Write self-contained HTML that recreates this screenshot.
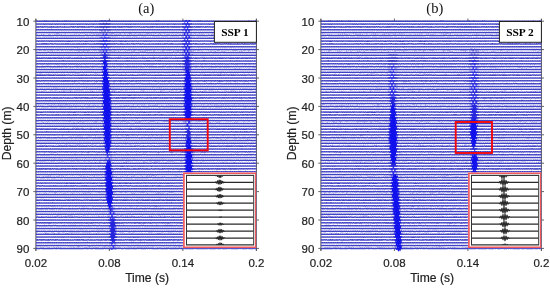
<!DOCTYPE html>
<html><head><meta charset="utf-8"><style>
html,body{margin:0;padding:0;background:#fff;width:550px;height:289px;overflow:hidden}
svg{display:block}
.tl{font-family:"Liberation Sans",Arial,sans-serif;font-size:11.5px;fill:#222;stroke:#222;stroke-width:0.2px}
.al{font-family:"Liberation Sans",Arial,sans-serif;font-size:12.1px;fill:#222;stroke:#222;stroke-width:0.2px}
.ttl{font-family:"Liberation Serif","Times New Roman",serif;font-size:14.5px;fill:#111}
.ssp{font-family:"Liberation Serif","Times New Roman",serif;font-size:11.4px;font-weight:bold;fill:#000}
</style></head><body>
<svg width="550" height="289" viewBox="0 0 550 289">
<rect width="550" height="289" fill="#fff"/>
<defs><path id="nz0" d="M0 0l1.1 .13l1.1 -.24l1.1 .28l1.1 -.27l1.1 .26l1.1 -.3l1.1 .23l1.1 -.25l1.1 .25l1.1 -.24l1.1 .24l1.1 -.2l1.1 .24l1.1 -.34l1.1 .3l1.1 -.22l1.1 .29l1.1 -.38l1.1 .38l1.1 -.3l1.1 .36l1.1 -.31l1.1 .3l1.1 -.33l1.1 .23l1.1 -.21l1.1 .23l1.1 -.32l1.1 .31l1.1 -.28l1.1 .34l1.1 -.31l1.1 .3l1.1 -.26l1.1 .19l1.1 -.21l1.1 .29l1.1 -.32l1.1 .27l1.1 -.29l1.1 .31l1.1 -.28l1.1 .32l1.1 -.37l1.1 .3l1.1 -.28l1.1 .32l1.1 -.36l1.1 .39l1.1 -.31l1.1 .34l1.1 -.32l1.1 .25l1.1 -.33l1.1 .3l1.1 -.26l1.1 .25l1.1 -.27l1.1 .37l1.1 -.35l1.1 .37l1.1 -.33l1.1 .31l1.1 -.35l1.1 .33l1.1 -.31l1.1 .35l1.1 -.41l1.1 .36l1.1 -.33l1.1 .27l1.1 -.28l1.1 .35l1.1 -.39l1.1 .42l1.1 -.32l1.1 .26l1.1 -.32l1.1 .27l1.1 -.24l1.1 .26l1.1 -.21l1.1 .2l1.1 -.29l1.1 .29l1.1 -.23l1.1 .26l1.1 -.34l1.1 .3l1.1 -.25l1.1 .31l1.1 -.37l1.1 .4l1.1 -.4l1.1 .33l1.1 -.27l1.1 .28l1.1 -.34l1.1 .42l1.1 -.32l1.1 .22l1.1 -.23l1.1 .24l1.1 -.27l1.1 .32l1.1 -.29l1.1 .21l1.1 -.23l1.1 .28l1.1 -.3l1.1 .38l1.1 -.39l1.1 .34l1.1 -.33l1.1 .35l1.1 -.27l1.1 .3l1.1 -.4l1.1 .39l1.1 -.4l1.1 .33l1.1 -.28l1.1 .24l1.1 -.27l1.1 .27l1.1 -.19l1.1 .21l1.1 -.22l1.1 .24l1.1 -.23l1.1 .18l1.1 -.2l1.1 .21l1.1 -.24l1.1 .23l1.1 -.29l1.1 .37l1.1 -.28l1.1 .23l1.1 -.26l1.1 .27l1.1 -.24l1.1 .3l1.1 -.42l1.1 .37l1.1 -.3l1.1 .25l1.1 -.2l1.1 .23l1.1 -.26l1.1 .32l1.1 -.31l1.1 .2l1.1 -.3l1.1 .37l1.1 -.27l1.1 .27l1.1 -.25l1.1 .25l1.1 -.37l1.1 .42l1.1 -.38l1.1 .3l1.1 -.26l1.1 .25l1.1 -.3l1.1 .35l1.1 -.35l1.1 .32l1.1 -.25l1.1 .31l1.1 -.41l1.1 .42l1.1 -.39l1.1 .39l1.1 -.38l1.1 .3l1.1 -.27l1.1 .29l1.1 -.23l1.1 .18l1.1 -.22l1.1 .25l1.1 -.3l1.1 .39l1.1 -.36l1.1 .36l1.1 -.43l1.1 .43l1.1 -.35l1.1 .25l1.1 -.24l1.1 .23l1.1 -.23l1.1 .29l1.1 -.38l1.1 .41l1.1 -.35l1.1 .33l1.1 -.37l1.1 .29l1.1 -.27l1.1 .38l1.1 -.4l1.1 .38l1.1 -.34l1.1 .26l1.1 -.3l1.1 .32l1.1 -.33l1.1 .41l1.1 -.36l1.1 .28l1.1 -.35l1.1 .4l1.1 -.29l1.1 .22l1.1 -.21l1.1 .32l1.1 -.4l1.1 .3l1.1 -.3l1.1 .41l1.1 -.39l1.1 .31l1.1 -.29l1.1 .27l1.1 -.2l1.1 .31l1.1 -.39l1.1 .33l1.1 -.37"/><path id="nz1" d="M0 0l1.1 .15l1.1 -.35l1.1 .4l1.1 -.31l1.1 .24l1.1 -.25l1.1 .25l1.1 -.29l1.1 .29l1.1 -.27l1.1 .25l1.1 -.31l1.1 .34l1.1 -.28l1.1 .31l1.1 -.37l1.1 .35l1.1 -.35l1.1 .36l1.1 -.31l1.1 .32l1.1 -.25l1.1 .24l1.1 -.26l1.1 .2l1.1 -.28l1.1 .3l1.1 -.26l1.1 .33l1.1 -.35l1.1 .29l1.1 -.29l1.1 .32l1.1 -.35l1.1 .29l1.1 -.26l1.1 .28l1.1 -.25l1.1 .31l1.1 -.34l1.1 .32l1.1 -.35l1.1 .4l1.1 -.35l1.1 .32l1.1 -.32l1.1 .31l1.1 -.34l1.1 .33l1.1 -.31l1.1 .31l1.1 -.36l1.1 .39l1.1 -.38l1.1 .42l1.1 -.33l1.1 .28l1.1 -.37l1.1 .41l1.1 -.3l1.1 .21l1.1 -.25l1.1 .24l1.1 -.22l1.1 .22l1.1 -.27l1.1 .37l1.1 -.4l1.1 .31l1.1 -.29l1.1 .36l1.1 -.28l1.1 .31l1.1 -.42l1.1 .33l1.1 -.33l1.1 .35l1.1 -.29l1.1 .37l1.1 -.42l1.1 .31l1.1 -.25l1.1 .3l1.1 -.29l1.1 .25l1.1 -.24l1.1 .31l1.1 -.27l1.1 .25l1.1 -.31l1.1 .24l1.1 -.22l1.1 .3l1.1 -.33l1.1 .25l1.1 -.31l1.1 .41l1.1 -.41l1.1 .32l1.1 -.22l1.1 .22l1.1 -.28l1.1 .31l1.1 -.23l1.1 .25l1.1 -.35l1.1 .4l1.1 -.32l1.1 .23l1.1 -.32l1.1 .37l1.1 -.34l1.1 .28l1.1 -.2l1.1 .27l1.1 -.32l1.1 .24l1.1 -.31l1.1 .38l1.1 -.37l1.1 .29l1.1 -.3l1.1 .3l1.1 -.3l1.1 .35l1.1 -.28l1.1 .29l1.1 -.37l1.1 .33l1.1 -.23l1.1 .26l1.1 -.28l1.1 .22l1.1 -.21l1.1 .2l1.1 -.21l1.1 .24l1.1 -.26l1.1 .32l1.1 -.31l1.1 .28l1.1 -.27l1.1 .25l1.1 -.22l1.1 .21l1.1 -.21l1.1 .27l1.1 -.35l1.1 .27l1.1 -.26l1.1 .36l1.1 -.31l1.1 .3l1.1 -.34l1.1 .3l1.1 -.35l1.1 .34l1.1 -.29l1.1 .33l1.1 -.4l1.1 .35l1.1 -.33l1.1 .38l1.1 -.35l1.1 .31l1.1 -.28l1.1 .23l1.1 -.2l1.1 .2l1.1 -.28l1.1 .31l1.1 -.23l1.1 .21l1.1 -.3l1.1 .4l1.1 -.38l1.1 .3l1.1 -.25l1.1 .25l1.1 -.28l1.1 .26l1.1 -.26l1.1 .27l1.1 -.34l1.1 .43l1.1 -.38l1.1 .28l1.1 -.34l1.1 .34l1.1 -.26l1.1 .22l1.1 -.23l1.1 .29l1.1 -.31l1.1 .27l1.1 -.27l1.1 .24l1.1 -.21l1.1 .22l1.1 -.24l1.1 .23l1.1 -.18l1.1 .22l1.1 -.25l1.1 .28l1.1 -.32l1.1 .34l1.1 -.36l1.1 .36l1.1 -.39l1.1 .34l1.1 -.27l1.1 .35l1.1 -.33l1.1 .29l1.1 -.36l1.1 .27l1.1 -.29l1.1 .4l1.1 -.38l1.1 .36l1.1 -.38l1.1 .3l1.1 -.26l1.1 .31l1.1 -.35l1.1 .39l1.1 -.39l1.1 .36l1.1 -.37l1.1 .38l1.1 -.36"/><path id="nz2" d="M0 0l1.1 .12l1.1 -.21l1.1 .2l1.1 -.24l1.1 .24l1.1 -.3l1.1 .36l1.1 -.33l1.1 .34l1.1 -.35l1.1 .33l1.1 -.24l1.1 .28l1.1 -.38l1.1 .34l1.1 -.31l1.1 .33l1.1 -.27l1.1 .28l1.1 -.31l1.1 .22l1.1 -.22l1.1 .31l1.1 -.3l1.1 .3l1.1 -.4l1.1 .37l1.1 -.29l1.1 .29l1.1 -.33l1.1 .37l1.1 -.36l1.1 .34l1.1 -.27l1.1 .21l1.1 -.23l1.1 .31l1.1 -.31l1.1 .29l1.1 -.25l1.1 .19l1.1 -.22l1.1 .3l1.1 -.36l1.1 .36l1.1 -.3l1.1 .28l1.1 -.31l1.1 .3l1.1 -.25l1.1 .31l1.1 -.32l1.1 .33l1.1 -.43l1.1 .3l1.1 -.24l1.1 .34l1.1 -.41l1.1 .36l1.1 -.27l1.1 .24l1.1 -.33l1.1 .33l1.1 -.28l1.1 .27l1.1 -.26l1.1 .37l1.1 -.32l1.1 .3l1.1 -.35l1.1 .36l1.1 -.39l1.1 .3l1.1 -.33l1.1 .36l1.1 -.24l1.1 .18l1.1 -.24l1.1 .3l1.1 -.28l1.1 .23l1.1 -.24l1.1 .26l1.1 -.33l1.1 .29l1.1 -.28l1.1 .39l1.1 -.3l1.1 .31l1.1 -.39l1.1 .39l1.1 -.33l1.1 .26l1.1 -.28l1.1 .36l1.1 -.39l1.1 .3l1.1 -.28l1.1 .27l1.1 -.22l1.1 .2l1.1 -.3l1.1 .32l1.1 -.34l1.1 .33l1.1 -.24l1.1 .28l1.1 -.27l1.1 .25l1.1 -.35l1.1 .42l1.1 -.4l1.1 .37l1.1 -.38l1.1 .42l1.1 -.37l1.1 .34l1.1 -.28l1.1 .28l1.1 -.33l1.1 .33l1.1 -.36l1.1 .3l1.1 -.22l1.1 .3l1.1 -.32l1.1 .26l1.1 -.28l1.1 .26l1.1 -.31l1.1 .4l1.1 -.34l1.1 .3l1.1 -.3l1.1 .29l1.1 -.3l1.1 .25l1.1 -.22l1.1 .22l1.1 -.32l1.1 .36l1.1 -.27l1.1 .32l1.1 -.43l1.1 .37l1.1 -.25l1.1 .22l1.1 -.21l1.1 .23l1.1 -.23l1.1 .22l1.1 -.24l1.1 .29l1.1 -.37l1.1 .39l1.1 -.33l1.1 .29l1.1 -.3l1.1 .29l1.1 -.27l1.1 .23l1.1 -.22l1.1 .34l1.1 -.32l1.1 .26l1.1 -.33l1.1 .37l1.1 -.32l1.1 .24l1.1 -.24l1.1 .26l1.1 -.29l1.1 .36l1.1 -.41l1.1 .4l1.1 -.29l1.1 .18l1.1 -.27l1.1 .39l1.1 -.36l1.1 .32l1.1 -.25l1.1 .23l1.1 -.35l1.1 .41l1.1 -.4l1.1 .42l1.1 -.34l1.1 .22l1.1 -.21l1.1 .27l1.1 -.33l1.1 .39l1.1 -.4l1.1 .36l1.1 -.36l1.1 .34l1.1 -.31l1.1 .25l1.1 -.28l1.1 .31l1.1 -.33l1.1 .38l1.1 -.3l1.1 .23l1.1 -.23l1.1 .29l1.1 -.35l1.1 .28l1.1 -.2l1.1 .25l1.1 -.32l1.1 .3l1.1 -.26l1.1 .28l1.1 -.26l1.1 .22l1.1 -.28l1.1 .36l1.1 -.39l1.1 .38l1.1 -.36l1.1 .27l1.1 -.24l1.1 .34l1.1 -.4l1.1 .31l1.1 -.22l1.1 .24l1.1 -.33l1.1 .32l1.1 -.27"/><path id="nz3" d="M0 0l1.1 .18l1.1 -.39l1.1 .33l1.1 -.21l1.1 .23l1.1 -.28l1.1 .32l1.1 -.29l1.1 .31l1.1 -.38l1.1 .34l1.1 -.27l1.1 .33l1.1 -.35l1.1 .33l1.1 -.31l1.1 .24l1.1 -.31l1.1 .32l1.1 -.34l1.1 .37l1.1 -.27l1.1 .23l1.1 -.26l1.1 .32l1.1 -.39l1.1 .32l1.1 -.25l1.1 .26l1.1 -.33l1.1 .32l1.1 -.2l1.1 .19l1.1 -.24l1.1 .35l1.1 -.41l1.1 .39l1.1 -.4l1.1 .43l1.1 -.34l1.1 .24l1.1 -.32l1.1 .4l1.1 -.28l1.1 .27l1.1 -.31l1.1 .28l1.1 -.27l1.1 .24l1.1 -.2l1.1 .21l1.1 -.26l1.1 .35l1.1 -.32l1.1 .32l1.1 -.33l1.1 .25l1.1 -.33l1.1 .39l1.1 -.34l1.1 .24l1.1 -.24l1.1 .29l1.1 -.35l1.1 .32l1.1 -.25l1.1 .34l1.1 -.3l1.1 .23l1.1 -.34l1.1 .38l1.1 -.28l1.1 .19l1.1 -.19l1.1 .31l1.1 -.33l1.1 .31l1.1 -.39l1.1 .34l1.1 -.26l1.1 .34l1.1 -.38l1.1 .29l1.1 -.31l1.1 .31l1.1 -.25l1.1 .21l1.1 -.28l1.1 .4l1.1 -.38l1.1 .38l1.1 -.3l1.1 .21l1.1 -.27l1.1 .37l1.1 -.43l1.1 .35l1.1 -.26l1.1 .27l1.1 -.3l1.1 .36l1.1 -.32l1.1 .31l1.1 -.38l1.1 .38l1.1 -.39l1.1 .36l1.1 -.3l1.1 .26l1.1 -.27l1.1 .33l1.1 -.29l1.1 .21l1.1 -.3l1.1 .31l1.1 -.22l1.1 .19l1.1 -.25l1.1 .29l1.1 -.35l1.1 .42l1.1 -.42l1.1 .34l1.1 -.22l1.1 .2l1.1 -.25l1.1 .34l1.1 -.33l1.1 .27l1.1 -.26l1.1 .31l1.1 -.35l1.1 .36l1.1 -.39l1.1 .38l1.1 -.28l1.1 .3l1.1 -.33l1.1 .29l1.1 -.3l1.1 .32l1.1 -.3l1.1 .23l1.1 -.24l1.1 .23l1.1 -.31l1.1 .37l1.1 -.3l1.1 .27l1.1 -.36l1.1 .37l1.1 -.27l1.1 .31l1.1 -.37l1.1 .39l1.1 -.32l1.1 .25l1.1 -.35l1.1 .4l1.1 -.41l1.1 .3l1.1 -.22l1.1 .23l1.1 -.22l1.1 .33l1.1 -.38l1.1 .38l1.1 -.35l1.1 .34l1.1 -.35l1.1 .27l1.1 -.31l1.1 .4l1.1 -.31l1.1 .27l1.1 -.34l1.1 .29l1.1 -.25l1.1 .24l1.1 -.22l1.1 .24l1.1 -.29l1.1 .34l1.1 -.29l1.1 .2l1.1 -.22l1.1 .31l1.1 -.29l1.1 .24l1.1 -.24l1.1 .31l1.1 -.35l1.1 .26l1.1 -.2l1.1 .24l1.1 -.3l1.1 .33l1.1 -.27l1.1 .21l1.1 -.29l1.1 .32l1.1 -.27l1.1 .25l1.1 -.34l1.1 .34l1.1 -.29l1.1 .3l1.1 -.28l1.1 .35l1.1 -.42l1.1 .36l1.1 -.25l1.1 .3l1.1 -.3l1.1 .2l1.1 -.3l1.1 .35l1.1 -.34l1.1 .34l1.1 -.35l1.1 .35l1.1 -.26l1.1 .2l1.1 -.25l1.1 .33l1.1 -.38l1.1 .31l1.1 -.27l1.1 .31l1.1 -.29l1.1 .26l1.1 -.23"/></defs>
<path d="M35.90 18.9V250.7M256.40 18.9V250.7M35.9 21.20H256.4M35.9 248.40H256.4" stroke="#555" stroke-width="1" fill="none"/>
<path d="M35.90 21.20h-2.6M256.40 21.20h2.6M35.90 49.60h-2.6M256.40 49.60h2.6M35.90 78.00h-2.6M256.40 78.00h2.6M35.90 106.40h-2.6M256.40 106.40h2.6M35.90 134.80h-2.6M256.40 134.80h2.6M35.90 163.20h-2.6M256.40 163.20h2.6M35.90 191.60h-2.6M256.40 191.60h2.6M35.90 220.00h-2.6M256.40 220.00h2.6M35.90 248.40h-2.6M256.40 248.40h2.6M35.90 21.20v-2.6M35.90 248.40v2.6M109.40 21.20v-2.6M109.40 248.40v2.6M182.90 21.20v-2.6M182.90 248.40v2.6M256.40 21.20v-2.6M256.40 248.40v2.6" stroke="#555" stroke-width="0.9" fill="none"/>
<path d="M320.90 18.9V250.7M541.40 18.9V250.7M320.9 21.20H541.4M320.9 248.40H541.4" stroke="#555" stroke-width="1" fill="none"/>
<path d="M320.90 21.20h-2.6M541.40 21.20h2.6M320.90 49.60h-2.6M541.40 49.60h2.6M320.90 78.00h-2.6M541.40 78.00h2.6M320.90 106.40h-2.6M541.40 106.40h2.6M320.90 134.80h-2.6M541.40 134.80h2.6M320.90 163.20h-2.6M541.40 163.20h2.6M320.90 191.60h-2.6M541.40 191.60h2.6M320.90 220.00h-2.6M541.40 220.00h2.6M320.90 248.40h-2.6M541.40 248.40h2.6M320.90 21.20v-2.6M320.90 248.40v2.6M394.40 21.20v-2.6M394.40 248.40v2.6M467.90 21.20v-2.6M467.90 248.40v2.6M541.40 21.20v-2.6M541.40 248.40v2.6" stroke="#555" stroke-width="0.9" fill="none"/>
<g fill="none" stroke-linejoin="round">
<clipPath id="pc0"><rect x="35.90" y="0" width="220.50" height="289"/></clipPath>
<g clip-path="url(#pc0)" stroke="#4242c6" stroke-width="1.35"><use href="#nz3" x="24.5" y="21.2"/><use href="#nz2" x="30.4" y="24.04"/><use href="#nz2" x="11.8" y="26.88"/><use href="#nz3" x="18.6" y="29.72"/><use href="#nz1" x="33.3" y="32.56"/><use href="#nz2" x="26.2" y="35.4"/><use href="#nz1" x="7.1" y="38.24"/><use href="#nz1" x="6.7" y="41.08"/><use href="#nz0" x="35.1" y="43.92"/><use href="#nz2" x="19.0" y="46.76"/><use href="#nz3" x="26.9" y="49.6"/><use href="#nz2" x="19.7" y="52.44"/><use href="#nz3" x="20.4" y="55.28"/><use href="#nz3" x="24.2" y="58.12"/><use href="#nz2" x="34.7" y="60.96"/><use href="#nz2" x="22.3" y="63.8"/><use href="#nz0" x="15.6" y="66.64"/><use href="#nz1" x="32.9" y="69.48"/><use href="#nz2" x="20.9" y="72.32"/><use href="#nz1" x="9.5" y="75.16"/><use href="#nz3" x="21.3" y="78"/><use href="#nz3" x="12.9" y="80.84"/><use href="#nz2" x="15.2" y="83.68"/><use href="#nz0" x="30.8" y="86.52"/><use href="#nz2" x="24.9" y="89.36"/><use href="#nz0" x="11.1" y="92.2"/><use href="#nz1" x="32.6" y="95.04"/><use href="#nz2" x="15.2" y="97.88"/><use href="#nz3" x="17.0" y="100.72"/><use href="#nz2" x="11.4" y="103.56"/><use href="#nz1" x="20.8" y="106.4"/><use href="#nz1" x="23.5" y="109.24"/><use href="#nz0" x="17.0" y="112.08"/><use href="#nz0" x="25.3" y="114.92"/><use href="#nz0" x="15.1" y="117.76"/><use href="#nz0" x="12.3" y="120.6"/><use href="#nz2" x="14.6" y="123.44"/><use href="#nz0" x="8.4" y="126.28"/><use href="#nz3" x="10.6" y="129.12"/><use href="#nz0" x="15.9" y="131.96"/><use href="#nz1" x="30.6" y="134.8"/><use href="#nz2" x="9.8" y="137.64"/><use href="#nz1" x="18.7" y="140.48"/><use href="#nz3" x="17.8" y="143.32"/><use href="#nz1" x="31.2" y="146.16"/><use href="#nz0" x="35.0" y="149"/><use href="#nz0" x="30.8" y="151.84"/><use href="#nz3" x="11.2" y="154.68"/><use href="#nz3" x="11.7" y="157.52"/><use href="#nz0" x="16.4" y="160.36"/><use href="#nz2" x="31.6" y="163.2"/><use href="#nz1" x="25.3" y="166.04"/><use href="#nz1" x="34.9" y="168.88"/><use href="#nz0" x="10.1" y="171.72"/><use href="#nz0" x="25.4" y="174.56"/><use href="#nz3" x="17.2" y="177.4"/><use href="#nz0" x="34.3" y="180.24"/><use href="#nz3" x="18.4" y="183.08"/><use href="#nz0" x="22.7" y="185.92"/><use href="#nz1" x="28.4" y="188.76"/><use href="#nz0" x="31.1" y="191.6"/><use href="#nz1" x="26.5" y="194.44"/><use href="#nz3" x="26.8" y="197.28"/><use href="#nz2" x="7.1" y="200.12"/><use href="#nz3" x="6.5" y="202.96"/><use href="#nz0" x="28.6" y="205.8"/><use href="#nz3" x="15.7" y="208.64"/><use href="#nz1" x="23.5" y="211.48"/><use href="#nz3" x="9.6" y="214.32"/><use href="#nz3" x="35.2" y="217.16"/><use href="#nz1" x="33.3" y="220"/><use href="#nz1" x="25.1" y="222.84"/><use href="#nz1" x="35.7" y="225.68"/><use href="#nz2" x="24.0" y="228.52"/><use href="#nz2" x="32.5" y="231.36"/><use href="#nz3" x="25.8" y="234.2"/><use href="#nz0" x="7.1" y="237.04"/><use href="#nz3" x="11.1" y="239.88"/><use href="#nz2" x="19.3" y="242.72"/><use href="#nz3" x="30.2" y="245.56"/><use href="#nz2" x="25.6" y="248.4"/></g>
<path stroke="#4242c6" stroke-width="1.35" d="M99.4 21.2l1.4 .02l1.4 -.27l1.4 .72l1.4 -.91l1.4 .82l1.4 -.59l1.4 .21l1.4 -.01M182 21.2l1.4 -.15M190.4 21.38l1.4 -.18M99.4 24.04l1.4 -.03l1.4 .28l1.4 -.68l1.4 .83l1.4 -.89l1.4 .71l1.4 -.24l1.4 .01M182 24.04l1.4 .14M190.4 23.82l1.4 .22M99.4 26.88l1.4 .03l1.4 -.33l1.4 .81l1.4 -1l1.4 .92l1.4 -.66l1.4 .25l1.4 -.02M182 26.88l1.4 -.14M190.4 27.1l1.4 -.22M99.4 29.72l1.4 -.03l1.4 .31l1.4 -.79l1.4 .98l1.4 -.95l1.4 .75l1.4 -.3l1.4 .02M182 29.72l1.4 .15M190.4 29.46l1.4 .26M99.4 32.56l1.4 .03l1.4 -.31l1.4 .77l1.4 -1.03l1.4 1.02l1.4 -.82l1.4 .35l1.4 -.02M182 32.56l1.4 -.15M190.4 32.81l1.4 -.25M99.4 35.4l1.4 -.03l1.4 .32M107.8 35.71l1.4 -.33l1.4 .03M182 35.4l1.4 .13M190.4 35.15l1.4 .25M99.4 38.24l1.4 .03l1.4 -.31M107.8 37.89l1.4 .38l1.4 -.03M182 38.24l1.4 -.13M190.4 38.5l1.4 -.26M99.4 41.08l1.4 -.03l1.4 .33M107.8 41.45l1.4 -.41l1.4 .04M182 41.08l1.4 .16M190.4 40.81l1.4 .27M99.4 43.92l1.4 .03l1.4 -.32M107.8 43.57l1.4 .39l1.4 -.04M182 43.92l1.4 -.16M190.4 44.28l1.4 -.36M99.4 46.76l1.4 -.02l1.4 .35M107.8 47.08l1.4 -.37l1.4 .05M182 46.76l1.4 .17M190.4 46.38l1.4 .38M99.4 49.6l1.4 .02l1.4 -.39M107.8 49.22l1.4 .44l1.4 -.06M182 49.6l1.4 -.19M190.4 49.96l1.4 -.36M99.4 52.44l1.4 -.02l1.4 .4M107.8 52.92l1.4 -.54l1.4 .06M182 52.44l1.4 .17M190.4 52.03l1.4 .41l1.4 0M100 55.28l.8 .02l.8 -.21l.8 .55M108 54.88l.8 .57l.8 -.19l.8 .02M182 55.28l1.4 -.13M190.4 55.64l1.4 -.36l1.4 0M100 58.12l.8 -.02l.8 .17l.8 -.61M108 58.52l.8 -.56l.8 .17l.8 -.02M182.4 58.12l.8 .07l.8 -.42M190.4 57.73l.8 .49l.8 -.1M100 60.96l.8 .01l.8 -.2l.8 .56M108 60.49l.8 .68l.8 -.24l.8 .02M182.4 60.96l.8 -.05l.8 .37M190.4 61.46l.8 -.61l.8 .11M102.4 63.8l.8 .35M107.2 63.79l.8 .01M182.4 63.8l.8 .04l.8 -.32M191.2 63.93l.8 -.13M107.2 66.88l.8 -.24M182.4 66.64l.8 -.03l.8 .33M191.2 66.51l.8 .13M101.6 69.48l.8 0M108 69.48l.8 0M182.4 69.48l.8 .02l.8 -.3M191.2 69.66l.8 -.18M101.6 72.32l.8 .02M108 72.16l.8 .16M190.4 72.33l.8 -.01M101.6 75.16l.8 -.07M108.8 75.16l.8 0M184 75.16l.8 .11M190.4 74.77l.8 .39M101.6 78l.8 .13M108.8 78.11l.8 -.11M184 78l.8 -.33M191.2 77.91l.8 .09M101.6 80.84l.8 -.12M108.8 80.46l.8 .38M183.2 80.84l.8 0l.8 .41M191.2 81.17l.8 -.33M101.6 83.68l.8 .17M109.6 83.6l.8 .08M183.2 83.68l.8 .02M192 83.7l.8 -.02M101.6 86.52l.8 -.18M109.6 86.87l.8 -.35M183.2 86.52l.8 -.06M192 86.47l.8 .05M101.6 89.36l.8 .22M110.4 89.42l.8 -.06M183.2 89.36l.8 .1M192 89.44l.8 -.08M101.6 92.2l.8 -.16M110.4 92.04l.8 .16M183.2 92.2l.8 -.12M192 92.06l.8 .14M101.6 95.04l.8 .16M110.4 95.38l.8 -.34l.8 0M183.2 95.04l.8 .2M192 95.21l.8 -.17M101.6 97.88l.8 -.12M111.2 97.91l.8 -.03M183.2 97.88l.8 -.25M192 97.67l.8 .21M101.6 100.72l.8 .09M111.2 100.62l.8 .1M183.2 100.72l.8 .27M192 100.95l.8 -.23M101.6 103.56l.8 -.09M111.2 103.8l.8 -.24M183.2 103.56l.8 -.19M192 103.38l.8 .18M101.6 106.4l.8 .06M111.2 106.13l.8 .27M183.2 106.4l.8 .15M192 106.53l.8 -.13M101.6 109.24l.8 -.02M111.2 109.52l.8 -.28M183.2 109.24l.8 -.11M192 109.14l.8 .1M101.6 112.08l.8 .01l.8 -.39M111.2 111.84l.8 .24M183.2 112.08l.8 .06M192 112.14l.8 -.06M101.6 114.92l.8 0l.8 .33M111.2 115.18l.8 -.26M183.2 114.92l.8 -.03M192 114.89l.8 .03M102.4 117.76l.8 -.29M111.2 117.53l.8 .23M184 117.76l.8 -.15M191.2 117.59l.8 .17M102.4 120.6l.8 .18M111.2 120.81l.8 -.21M184.8 120.6l1.4 .23M190.4 120.4l1.4 .2M102.4 123.44l.8 -.13M111.2 123.22l.8 .22M184.8 123.44l1.4 -.22M190.4 123.64l1.4 -.2M102.4 126.28l.8 .07M111.2 126.52l.8 -.24M184.8 126.28l1.4 .24M190.4 126.07l1.4 .21M102.4 129.12l.8 -.02M111.2 128.94l.8 .18M184.8 129.12l1.4 -.23M190.4 129.3l1.4 -.18M102.4 131.96l.8 0l.8 -.42M111.2 132.17l.8 -.21M184.8 131.96l.8 -.01l.8 .43M190.4 131.77l.8 .19M103.2 134.8l.8 .37M111.2 134.62l.8 .18M185.6 134.8l.8 -.21M190.4 135.18l.8 -.38M103.2 137.64l.8 -.24M111.2 137.8l.8 -.16M184.8 137.64l.8 0M191.2 137.7l.8 -.06M103.2 140.48l.8 .16M111.2 140.3l.8 .18M184.8 140.48l.8 .05M191.2 140.28l.8 .2M103.2 143.32l.8 -.04M111.2 143.43l.8 -.11M184.8 143.32l.8 -.13M191.2 143.7l.8 -.38M104 146.16l.8 -.37M111.2 146.12l.8 .04M184.8 146.16l.8 .27M192 146.2l.8 -.04M104.8 149l.8 -.29M109.6 149.26l.8 -.26M184 149l.8 0l.8 -.42M192 148.77l.8 .23M104.8 151.84l.8 .08l.8 -.41M110.4 152.13l.8 -.32l.8 .03M184 151.84l.8 -.05M192.8 151.82l.8 .02M105 154.68l1.4 -.37M110.6 154.86l1.4 -.18M184 154.68l.8 .06M192.8 154.7l.8 -.02M105 157.52l1.4 .34M110.6 157.34l1.4 .18M184 157.52l.8 -.06M192.8 157.49l.8 .03M105 160.36l1.4 -.39M110.6 160.55l1.4 -.19M184 160.36l.8 .07M192.8 160.38l.8 -.02M105.6 163.2l.8 -.33M110.4 163.56l.8 -.36M184 163.2l.8 -.05M192.8 163.17l.8 .03M104.8 166.04l.8 -.16M111.2 166.46l.8 -.42M184 166.04l.8 .06M192.8 166.07l.8 -.03M104.8 168.88l.8 .43M112 168.96l.8 -.08M184 168.88l.8 -.06M192.8 168.85l.8 .03M104 171.72l.8 .05M112 171.43l.8 .29M184 171.72l.8 .06M192.8 171.74l.8 -.02M104 174.56l.8 -.04M112 174.97l.8 -.41l.8 0M104 177.4l.8 .02M112.8 177.41l.8 -.01M104 180.24l.8 0M112.8 180.19l.8 .05M104.8 183.08l.8 -.43M112.8 183.2l.8 -.12M104.8 185.92l.8 .29M112.8 185.72l.8 .2M104.8 188.76l.8 -.3M112.8 189.06l.8 -.3M104.8 191.6l.8 .17M112.8 191.28l.8 .32M104.8 194.44l.8 -.07M112.8 194.73l.8 -.29M104.8 197.28l.8 .01M112.8 196.97l.8 .31M105.6 200.12l.8 .13M112.8 200.22l.8 -.1M106.4 202.96l.8 .25M112 203.38l.8 -.42M107.2 205.8l.8 .11M112 205.76l.8 .04M108 208.64l.8 .18M113.6 208.95l.8 -.33l.8 .02M107.8 211.48l1.4 -.34M107.8 214.32l1.4 .31M114.8 214.33l1.4 -.01M107.8 217.16l1.4 -.24M114.8 217.1l1.4 .06M108 220l.8 .05l.8 -.49M115.2 220.21l.8 -.21M108.8 222.84l.8 .12M115.2 222.43l.8 .43l.8 -.02M108.8 225.68l.8 -.1M116 225.61l.8 .07M108.8 228.52l.8 .07M116 228.63l.8 -.11M108.8 231.36l.8 -.03M116 231.28l.8 .08M108.8 234.2l.8 .01M116 234.3l.8 -.1M108.8 237.04l.8 0l.8 .35M116 236.98l.8 .06M109.6 239.88l.8 -.21M115.2 239.42l.8 .47l.8 -.01M109.2 242.72l1.4 -.12M114.8 243.15l1.4 -.43M109.2 245.56l1.4 .13M114.8 245.14l1.4 .42M109.2 248.4l1.4 -.11M114.8 248.75l1.4 -.35"/>
<path stroke="#2e2ee2" stroke-width="1.35" d="M183.4 21.05l1.4 .69l1.4 -1.21l1.4 1.46l1.4 -1.55l1.4 .94M183.4 24.18l1.4 -.71l1.4 1.29l1.4 -1.61l1.4 1.64l1.4 -.98M183.4 26.74l1.4 .74l1.4 -1.54l1.4 1.69l1.4 -1.56l1.4 1.04M183.4 29.87l1.4 -.82l1.4 1.65l1.4 -1.8l1.4 1.59l1.4 -1.03M183.4 32.41l1.4 .91l1.4 -1.65l1.4 1.78l1.4 -1.78l1.4 1.14M102.2 35.69l1.4 -.75l1.4 .96l1.4 -1.07l1.4 .87M183.4 35.53l1.4 -.9l1.4 1.58l1.4 -1.6l1.4 1.55l1.4 -1.02M102.2 37.96l1.4 .79l1.4 -.97l1.4 .9l1.4 -.81M183.4 38.11l1.4 .93l1.4 -1.77l1.4 1.84l1.4 -1.8l1.4 1.19M102.2 41.38l1.4 -.88l1.4 1.12l1.4 -1l1.4 .84M183.4 41.24l1.4 -.92l1.4 1.86l1.4 -2.14l1.4 2.02l1.4 -1.24M102.2 43.62l1.4 .89l1.4 -1.1l1.4 1.11l1.4 -.96M183.4 43.76l1.4 .83l1.4 -1.64l1.4 1.94l1.4 -1.78l1.4 1.17M102.2 47.09l1.4 -.91l1.4 1.1l1.4 -1.12l1.4 .92M183.4 46.93l1.4 -.87l1.4 1.74l1.4 -2.15l1.4 1.99l1.4 -1.26M102.2 49.23l1.4 .93l1.4 -1.06l1.4 1.07l1.4 -.95M183.4 49.41l1.4 1.07l1.4 -2.03l1.4 2.16l1.4 -2.01l1.4 1.35M102.2 52.82l1.4 -1.03l1.4 1.23l1.4 -1.27l1.4 1.17M183.4 52.61l1.4 -.98l1.4 2l1.4 -2.25l1.4 2.07l1.4 -1.42M102.4 55.63l.8 -.98M106.4 54.72l.8 1.09l.8 -.93M183.4 55.15l1.4 .9l1.4 -1.97l1.4 2.29l1.4 -2.2l1.4 1.47M102.4 57.66l.8 1.05M106.4 58.72l.8 -1.29l.8 1.09M184 57.77l.8 1.14M189.6 59.12l.8 -1.39M102.4 61.33l.8 -.94M106.4 60.22l.8 1.43l.8 -1.17M184 61.29l.8 -1.04M189.6 60.02l.8 1.44M106.4 64.97l.8 -1.18M184 63.52l.8 1.01M189.6 64.77l.8 -1.44l.8 .6M102.4 66.64l.8 -.47M184 66.94l.8 -1.11M189.6 65.43l.8 1.8l.8 -.72M102.4 69.48l.8 .74M107.2 68.83l.8 .66M184 69.2l.8 1.07M189.6 70.48l.8 -1.49l.8 .67M102.4 72.34l.8 -.91M184.8 72.32l.8 .54M189.6 71.6l.8 .73M102.4 75.09l.8 1.08M108 75.68l.8 -.52M184.8 75.27l.8 -1.35M102.4 78.13l.8 -1.1M108 77l.8 1.1M190.4 78.84l.8 -.92M102.4 80.72l.8 1.27M102.4 83.85l.8 -1.34M108.8 84.52l.8 -.92M184 83.7l.8 -.61M191.2 83.07l.8 .62M102.4 86.34l.8 1.4M184 86.46l.8 .84M191.2 87.34l.8 -.86M102.4 89.58l.8 -1.37M109.6 88.63l.8 .78M184 89.46l.8 -.96M191.2 88.5l.8 .95M102.4 92.04l.8 1.22M109.6 93.19l.8 -1.15M184 92.08l.8 1.04M191.2 93.12l.8 -1.05M102.4 95.2l.8 -1.11M184 95.24l.8 -1.25M191.2 94.04l.8 1.17M102.4 97.76l.8 .89M110.4 97.43l.8 .48M102.4 100.81l.8 -.85M110.4 101.49l.8 -.88M102.4 103.47l.8 .71M110.4 102.39l.8 1.41M184 103.37l.8 1.33M191.2 104.55l.8 -1.16M102.4 106.46l.8 -.61M184 106.55l.8 -1.24M191.2 105.52l.8 1.01M102.4 109.22l.8 .58M184 109.13l.8 .99M191.2 110.12l.8 -.98M184 112.14l.8 -.71M191.2 111.4l.8 .74M184 114.89l.8 .67M191.2 115.54l.8 -.65M184.8 117.61l.8 .99M190.4 118.67l.8 -1.08M103.2 120.78l.8 -1.28M186.2 120.83l1.4 -1.17l1.4 1.96l1.4 -1.22M103.2 123.31l.8 1.1M186.2 123.22l1.4 1.19l1.4 -2.06l1.4 1.28M103.2 126.35l.8 -.73M186.2 126.52l1.4 -1.3l1.4 1.89l1.4 -1.04M103.2 129.1l.8 .68M186.2 128.89l1.4 1.3l1.4 -1.99l1.4 1.1M186.4 132.38l.8 -1.24M189.6 133.14l.8 -1.37M185.6 137.64l.8 .55M190.4 136.63l.8 1.07M185.6 140.53l.8 -.82M104 143.28l.8 .73M110.4 142.19l.8 1.24M185.6 143.19l.8 1.28M110.4 146.9l.8 -.78M191.2 145.36l.8 .83M108.8 152.44l.8 -1.16l.8 .85M184.8 151.79l.8 .73M192 152.36l.8 -.54M106.4 154.31l1.4 .9l1.4 -1.01l1.4 .66M184.8 154.74l.8 -.85M192 154.13l.8 .58M106.4 157.86l1.4 -.96l1.4 1.13l1.4 -.68M184.8 157.46l.8 .73M192 158.1l.8 -.61M106.4 159.97l1.4 .98l1.4 -1.2l1.4 .8M184.8 160.43l.8 -.91M192 159.69l.8 .7M184.8 163.15l.8 .81M192 163.9l.8 -.73M184.8 166.1l.8 -.92M192 165.45l.8 .62M111.2 168.03l.8 .93M184.8 168.82l.8 .76M192 169.57l.8 -.72M104.8 171.77l.8 -.84M184.8 171.78l.8 -.91M192 171.13l.8 .61M104.8 174.52l.8 .82M104.8 177.42l.8 -.69M112 176.76l.8 .65M104.8 180.24l.8 .57M112 181.04l.8 -.85M112 182.12l.8 1.08M105.6 194.37l.8 1M105.6 197.29l.8 -.63M106.4 200.25l.8 -1.26M112 198.99l.8 1.23M111.2 207.71l.8 1.79l.8 -1.53l.8 .98M109.2 211.14l1.4 1.25l1.4 -1.68l1.4 1.34l1.4 -.57M109.2 214.63l1.4 -1.18l1.4 1.88l1.4 -1.62l1.4 .62M109.2 216.92l1.4 1.22l1.4 -1.91l1.4 1.67l1.4 -.79M109.6 219.56l.8 1.33l.8 -2.02M113.6 221.28l.8 -2.02l.8 .95M109.6 222.96l.8 -.79M109.6 225.58l.8 .89M115.2 226.41l.8 -.8M109.6 228.59l.8 -.72M115.2 227.69l.8 .94M109.6 231.33l.8 .62M115.2 232.2l.8 -.92M109.6 234.21l.8 -.58M115.2 233.48l.8 .82M115.2 237.8l.8 -.82M110.4 239.67l.8 1.03M110.6 242.6l1.4 .82l1.4 -1.45l1.4 1.18M110.6 245.69l1.4 -.75l1.4 1.34l1.4 -1.13M110.6 248.29l1.4 .75l1.4 -1.29l1.4 1"/>
<path stroke="#2424dc" stroke-width="1.35" d="M103.2 54.65l.8 1.95l.8 -3.11l.8 2.96l.8 -1.74M103.2 58.71l.8 -2.15l.8 3.57l.8 -3.97l.8 2.56M184.8 58.91l.8 -1.9l.8 2.2l.8 -2.4l.8 2.57l.8 -2.52l.8 2.25M103.2 60.39l.8 2.44l.8 -3.87l.8 4.18l.8 -2.91M184.8 60.25l.8 1.83l.8 -2.46l.8 2.56l.8 -2.5l.8 2.41l.8 -2.08M103.2 64.15l.8 -2.71M184.8 64.53l.8 -2.02l.8 2.45l.8 -2.53l.8 2.77l.8 -2.55l.8 2.12M106.4 64.99l.8 1.89M184.8 65.83l.8 2.18l.8 -2.68l.8 2.83l.8 -2.72l.8 2.69l.8 -2.71M184.8 70.27l.8 -1.96l.8 2.46l.8 -2.91l.8 3.69l.8 -3.33l.8 2.26M107.2 73.59l.8 -1.43M185.6 72.86l.8 -2.78M188.8 74.7l.8 -3.1M107.2 73.28l.8 2.4M189.6 76.88l.8 -2.12M184.8 77.67l.8 1.89M108 82.86l.8 -2.39M184.8 81.25l.8 -2.29M190.4 79.45l.8 1.72M108.8 85.17l.8 1.7M108.8 91.84l.8 -3.21M109.6 93.56l.8 1.82M109.6 99.95l.8 -2.52M184 97.63l.8 1.51M191.2 99.16l.8 -1.49M184 100.99l.8 -1.35M191.2 99.34l.8 1.6M103.2 104.18l.8 -2.95M103.2 105.86l.8 2.49M110.4 107.77l.8 -1.65M103.2 109.79l.8 -2.28M110.4 107.84l.8 1.68M103.2 111.7l.8 2.07M110.4 113.27l.8 -1.43M103.2 115.25l.8 -1.67M110.4 113.64l.8 1.54M103.2 117.47l.8 1.48M110.4 118.95l.8 -1.43M185.6 118.61l.8 -2.99M189.6 115.61l.8 3.06M110.4 119.33l.8 1.48M110.4 124.54l.8 -1.32M110.4 124.91l.8 1.61M104 129.78l.8 -3.19M110.4 130.26l.8 -1.32M104 131.54l.8 2.54M110.4 130.59l.8 1.58M187.2 131.14l.8 2.31l.8 -3.16l.8 2.86M104 135.17l.8 -2M110.4 136.08l.8 -1.45M186.4 134.59l.8 1.47l.8 -3.08l.8 3.79l.8 -3.84l.8 2.25M104 137.4l.8 1.57M110.4 136.37l.8 1.44M186.4 138.18l.8 -2.44l.8 3.88l.8 -4.03l.8 4.36l.8 -3.32M104 140.64l.8 -1.3M110.4 141.68l.8 -1.38M186.4 139.71l.8 2.92M190.4 141.8l.8 -1.51M190.4 141.54l.8 2.17M104.8 145.79l.8 2.31M185.6 146.43l.8 -1.77M105.6 148.71l.8 2.58M108.8 147.11l.8 2.15M185.6 148.59l.8 2.21M191.2 150.23l.8 -1.46M106.4 151.52l.8 2.07l.8 -3.26l.8 2.11M106.4 162.87l.8 2.14M109.6 160.87l.8 2.69M105.6 165.88l.8 1.69M110.4 163.68l.8 2.78M105.6 169.31l.8 -2.62M111.2 173.54l.8 -2.11M111.2 172.44l.8 2.52M105.6 180.81l.8 -2.68M105.6 182.65l.8 2.18M105.6 186.21l.8 -2.09M112 187.07l.8 -1.34M105.6 188.46l.8 1.72M112 187.09l.8 1.98M105.6 191.77l.8 -1.34M112 193.39l.8 -2.11M112 192.73l.8 2M112 198.82l.8 -1.85M107.2 203.21l.8 -1.96M111.2 201.04l.8 2.34M108 205.91l.8 -1.79M111.2 207.01l.8 -1.25M108.8 208.82l.8 -1.87l.8 3.47l.8 -2.71M111.2 218.86l.8 2.35l.8 -2.45l.8 2.51M110.4 222.17l.8 2.09l.8 -3.16l.8 3.25l.8 -3.13l.8 2.81l.8 -1.6M110.4 226.47l.8 -2.77l.8 4.09l.8 -4.31l.8 4.27l.8 -4.12l.8 2.77M110.4 227.87l.8 2.45l.8 -4.13l.8 4.2l.8 -4.2l.8 4.06l.8 -2.57M110.4 231.95l.8 -2.52l.8 4.19l.8 -4.48l.8 4.27l.8 -4.17l.8 2.97M110.4 233.64l.8 2.27l.8 -3.99l.8 4.36l.8 -4.19l.8 3.86l.8 -2.47M110.4 237.39l.8 -1.62l.8 3.27l.8 -3.83l.8 3.69l.8 -3.42l.8 2.31M111.2 240.69l.8 -2.26l.8 2.93l.8 -2.77l.8 2.52l.8 -1.7"/>
<path stroke="#1010ec" stroke-width="1.1" d="M104 61.43l.8 4.47l.8 -4.8l.8 3.86M103.2 66.17l.8 2.82l.8 -4.61l.8 4.63l.8 -4.02M103.2 70.22l.8 -3.45l.8 5.65l.8 -5.4l.8 4.77l.8 -2.97M103.2 71.43l.8 3.68l.8 -5.21l.8 4.88l.8 -5.02l.8 3.84M186.4 70.08l.8 4.82l.8 -4.73l.8 4.52M103.2 76.17l.8 -3.69l.8 5.3l.8 -5.52l.8 5.83l.8 -4.81M185.6 73.92l.8 3.83l.8 -5.33l.8 5.22l.8 -5.29l.8 4.53M103.2 77.04l.8 3.86l.8 -5.52l.8 5.78l.8 -6.46l.8 6.11l.8 -3.81M185.6 79.56l.8 -4.41l.8 5.57l.8 -5.97l.8 6.22l.8 -5.62l.8 3.48M103.2 81.99l.8 -3.97l.8 5.64l.8 -5.81l.8 6.32l.8 -6.12l.8 4.81M185.6 78.96l.8 5.11l.8 -6.54l.8 6.64l.8 -6.18l.8 6.18l.8 -4.71M103.2 82.51l.8 3.48l.8 -5.41l.8 6.29l.8 -5.96l.8 6.08l.8 -5.79l.8 3.3M184.8 83.09l.8 3.01l.8 -5.95l.8 7.34l.8 -6.95l.8 6.44l.8 -6.43l.8 5.62l.8 -3.12M103.2 87.74l.8 -3.87l.8 5.5l.8 -6.28l.8 6.92l.8 -6.86l.8 6.07l.8 -4.04M184.8 87.31l.8 -3.34l.8 5.93l.8 -7.22l.8 7.51l.8 -7.48l.8 6.75l.8 -5.21l.8 3.09M103.2 88.21l.8 3.42l.8 -5.28l.8 6.09l.8 -6.44l.8 6.95l.8 -6.63l.8 5.53M184.8 88.49l.8 3.17l.8 -5.54l.8 6.73l.8 -6.87l.8 6.9l.8 -7.31l.8 6.21l.8 -3.3M103.2 93.26l.8 -3.57l.8 5.58l.8 -6.5l.8 7.04l.8 -6.75l.8 6.09l.8 -5.32l.8 3.36M184.8 93.12l.8 -3.54l.8 6.25l.8 -6.99l.8 7.27l.8 -7.48l.8 6.74l.8 -5.59l.8 3.35M103.2 94.09l.8 3.34l.8 -5.77l.8 6.6l.8 -6.18l.8 6.66l.8 -6.92l.8 5.84l.8 -4.09M184.8 93.98l.8 3.97l.8 -6.09l.8 6.23l.8 -6.54l.8 7.38l.8 -7.28l.8 6.01l.8 -3.63M103.2 98.65l.8 -3.13l.8 5.72l.8 -6.34l.8 6.68l.8 -6.94l.8 6.76l.8 -6.35l.8 4.9M184.8 99.14l.8 -4.07l.8 6.75l.8 -7.53l.8 7.16l.8 -6.88l.8 6.91l.8 -6.52l.8 4.19M103.2 99.96l.8 3.23l.8 -5.43l.8 6.52l.8 -7.29l.8 7.55l.8 -6.99l.8 6.13l.8 -5.15l.8 2.97M184.8 99.64l.8 3.95l.8 -6.2l.8 6.51l.8 -6.37l.8 6.72l.8 -7.2l.8 6.39l.8 -4.1M104 101.23l.8 5.64l.8 -7.03l.8 7.29l.8 -7.35l.8 7.77l.8 -7.14l.8 5.9l.8 -3.91M184.8 104.7l.8 -3.72l.8 5.88l.8 -6.94l.8 6.71l.8 -6.22l.8 7.04l.8 -6.33l.8 3.42M104 108.34l.8 -5.51l.8 7.55l.8 -7.04l.8 6.39l.8 -7.09l.8 7.58l.8 -6.83l.8 4.37M184.8 105.31l.8 3.4l.8 -5.47l.8 6.99l.8 -6.94l.8 6.5l.8 -6.56l.8 5.66l.8 -3.37M104 107.51l.8 4.75l.8 -6.29l.8 6.82l.8 -6.68l.8 6.56l.8 -7.12l.8 6.61l.8 -4.33M184.8 110.12l.8 -3.67l.8 6.23l.8 -6.94l.8 6.96l.8 -6.6l.8 7.05l.8 -6.2l.8 3.17M104 113.77l.8 -4.73l.8 6.08l.8 -6.96l.8 7.29l.8 -6.73l.8 7.28l.8 -6.57l.8 3.84M184.8 111.43l.8 3.09l.8 -5.86l.8 6.53l.8 -7.07l.8 7.25l.8 -6.57l.8 5.85l.8 -3.24M104 113.58l.8 4.45l.8 -6.67l.8 7.13l.8 -7.02l.8 6.62l.8 -6.84l.8 6.15l.8 -3.76M184.8 115.56l.8 -2.68l.8 5.27l.8 -6.44l.8 6.88l.8 -7.35l.8 7.26l.8 -5.88l.8 2.92M104 118.95l.8 -3.65l.8 5.89l.8 -7.38l.8 7.65l.8 -7.69l.8 7.77l.8 -6.19l.8 3.61M186.4 115.62l.8 4.47l.8 -4.66l.8 4.6l.8 -4.43M104 119.5l.8 3.56l.8 -6.3l.8 7.66l.8 -7.78l.8 7.19l.8 -6.29l.8 5.7l.8 -3.9M104 124.41l.8 -3.56l.8 5.87l.8 -6.34l.8 7.01l.8 -7.38l.8 7.37l.8 -7l.8 4.17M104 125.62l.8 2.73l.8 -5.46l.8 6.98l.8 -7.49l.8 7.25l.8 -7.13l.8 6.83l.8 -4.43M104.8 126.58l.8 5.63l.8 -6.86l.8 7.02l.8 -7.08l.8 7.75l.8 -6.53l.8 3.73M104.8 134.08l.8 -4.92l.8 6.08l.8 -7.27l.8 7.97l.8 -7.33l.8 5.92l.8 -3.95M104.8 133.17l.8 5.08l.8 -6.65l.8 6.84l.8 -6.99l.8 6.72l.8 -6.3l.8 4.21M104.8 138.97l.8 -4.49l.8 6.56l.8 -6.42l.8 6.19l.8 -6.57l.8 6.45l.8 -4.32M104.8 139.34l.8 3.74l.8 -5.68l.8 7.01l.8 -7.07l.8 6.3l.8 -5.75l.8 3.79M187.2 142.63l.8 -4.3l.8 4.69l.8 -5.25l.8 4.03M104.8 144.01l.8 -2.87l.8 5.72l.8 -6.75l.8 6.34l.8 -6.48l.8 6.31l.8 -4.1M186.4 144.47l.8 -3.93l.8 5.18l.8 -4.81l.8 5.24l.8 -4.61M105.6 148.1l.8 -5.01l.8 6.11l.8 -6.43l.8 6.78l.8 -6.12l.8 3.47M186.4 144.65l.8 4.2l.8 -5.8l.8 6.29l.8 -5.6l.8 4.81l.8 -3.19M106.4 151.29l.8 -4.72l.8 5.03l.8 -4.49M186.4 150.8l.8 -4.87l.8 6.16l.8 -6.45l.8 6.26l.8 -5.81l.8 4.14M185.6 152.52l.8 -3.18l.8 5.47l.8 -6.05l.8 6.99l.8 -7.3l.8 6.82l.8 -5.96l.8 3.05M185.6 153.89l.8 3.52l.8 -5.7l.8 5.98l.8 -6.79l.8 7.74l.8 -7.56l.8 6.01l.8 -2.97M185.6 158.19l.8 -3.48l.8 6.58l.8 -7.02l.8 6.31l.8 -6.38l.8 6.88l.8 -5.81l.8 2.84M185.6 159.52l.8 3.58l.8 -5.99l.8 7.24l.8 -7.27l.8 7.09l.8 -7.62l.8 5.84l.8 -2.71M107.2 165l.8 -4.48l.8 5.13l.8 -4.79M185.6 163.95l.8 -3.27l.8 6.11l.8 -6.76l.8 6.7l.8 -6.89l.8 7.08l.8 -6.21l.8 3.21M106.4 167.57l.8 -4.12l.8 5.85l.8 -6.39l.8 6.48l.8 -5.71M185.6 165.19l.8 3.35l.8 -6.1l.8 6.7l.8 -6.98l.8 6.91l.8 -6.81l.8 5.85l.8 -2.65M106.4 166.69l.8 5.59l.8 -6.95l.8 6.94l.8 -6.2l.8 5.13l.8 -3.17M185.6 169.57l.8 -3.5l.8 6.01l.8 -6.91l.8 6.73l.8 -7.01l.8 7.05l.8 -5.49l.8 3.11M105.6 170.92l.8 3.59l.8 -6.3l.8 6.58l.8 -6.83l.8 7.17l.8 -6.86l.8 5.27M185.6 170.87l.8 3.64l.8 -6.62l.8 7.22l.8 -6.9l.8 7.23l.8 -7.37l.8 5.89l.8 -2.83M105.6 175.34l.8 -3.55l.8 5.97l.8 -6.8l.8 6.87l.8 -7.22l.8 6.93l.8 -5.1M105.6 176.73l.8 2.71l.8 -5.43l.8 6.53l.8 -6.86l.8 7.55l.8 -6.86l.8 5.42l.8 -3.01M106.4 178.13l.8 5.47l.8 -6.84l.8 7.36l.8 -7.16l.8 6.41l.8 -5.36l.8 3.03M106.4 184.83l.8 -5.37l.8 6.74l.8 -6.17l.8 6.55l.8 -6.97l.8 6.13l.8 -3.62M106.4 184.12l.8 5.19l.8 -7.29l.8 7.65l.8 -6.93l.8 7.15l.8 -7.15l.8 4.33M106.4 190.18l.8 -4.35l.8 6.41l.8 -6.77l.8 7.19l.8 -7.03l.8 5.96l.8 -4.5M106.4 190.43l.8 4.16l.8 -6.83l.8 7.4l.8 -7.38l.8 7.2l.8 -6.13l.8 4.55M106.4 195.37l.8 -3.25l.8 5.28l.8 -6.47l.8 6.99l.8 -6.55l.8 6.13l.8 -4.76M106.4 196.66l.8 3.07l.8 -5.87l.8 6.82l.8 -6.28l.8 5.93l.8 -5.76l.8 4.25M107.2 198.99l.8 3.53l.8 -5.09l.8 5.99l.8 -6.44l.8 5.77l.8 -3.76M108 201.25l.8 4.45l.8 -5.86l.8 6.15l.8 -4.95M108.8 204.12l.8 3.84l.8 -4.28l.8 3.32"/>
</g>
<g fill="none" stroke-linejoin="round">
<clipPath id="pc285"><rect x="320.90" y="0" width="220.50" height="289"/></clipPath>
<g clip-path="url(#pc285)" stroke="#4242c6" stroke-width="1.35"><use href="#nz3" x="308.7" y="21.2"/><use href="#nz3" x="314.8" y="24.04"/><use href="#nz1" x="319.2" y="26.88"/><use href="#nz3" x="295.2" y="29.72"/><use href="#nz0" x="319.4" y="32.56"/><use href="#nz0" x="296.5" y="35.4"/><use href="#nz3" x="315.5" y="38.24"/><use href="#nz1" x="306.0" y="41.08"/><use href="#nz2" x="296.8" y="43.92"/><use href="#nz1" x="316.5" y="46.76"/><use href="#nz1" x="305.4" y="49.6"/><use href="#nz3" x="318.0" y="52.44"/><use href="#nz0" x="292.4" y="55.28"/><use href="#nz3" x="314.2" y="58.12"/><use href="#nz2" x="299.7" y="60.96"/><use href="#nz3" x="300.3" y="63.8"/><use href="#nz1" x="294.9" y="66.64"/><use href="#nz1" x="319.6" y="69.48"/><use href="#nz3" x="312.1" y="72.32"/><use href="#nz1" x="294.7" y="75.16"/><use href="#nz2" x="299.7" y="78"/><use href="#nz1" x="311.6" y="80.84"/><use href="#nz2" x="311.2" y="83.68"/><use href="#nz1" x="316.3" y="86.52"/><use href="#nz1" x="309.2" y="89.36"/><use href="#nz0" x="311.1" y="92.2"/><use href="#nz1" x="301.7" y="95.04"/><use href="#nz1" x="301.3" y="97.88"/><use href="#nz0" x="315.0" y="100.72"/><use href="#nz1" x="299.1" y="103.56"/><use href="#nz3" x="310.9" y="106.4"/><use href="#nz3" x="317.5" y="109.24"/><use href="#nz2" x="317.2" y="112.08"/><use href="#nz1" x="291.0" y="114.92"/><use href="#nz0" x="312.2" y="117.76"/><use href="#nz2" x="320.4" y="120.6"/><use href="#nz3" x="294.2" y="123.44"/><use href="#nz0" x="314.9" y="126.28"/><use href="#nz2" x="295.0" y="129.12"/><use href="#nz0" x="314.9" y="131.96"/><use href="#nz3" x="312.8" y="134.8"/><use href="#nz1" x="303.5" y="137.64"/><use href="#nz2" x="319.9" y="140.48"/><use href="#nz0" x="291.9" y="143.32"/><use href="#nz2" x="315.1" y="146.16"/><use href="#nz1" x="301.2" y="149"/><use href="#nz0" x="315.7" y="151.84"/><use href="#nz2" x="307.4" y="154.68"/><use href="#nz1" x="311.0" y="157.52"/><use href="#nz2" x="315.5" y="160.36"/><use href="#nz2" x="296.6" y="163.2"/><use href="#nz3" x="318.0" y="166.04"/><use href="#nz0" x="297.3" y="168.88"/><use href="#nz3" x="307.1" y="171.72"/><use href="#nz0" x="319.7" y="174.56"/><use href="#nz0" x="308.5" y="177.4"/><use href="#nz1" x="308.4" y="180.24"/><use href="#nz2" x="318.6" y="183.08"/><use href="#nz1" x="310.1" y="185.92"/><use href="#nz0" x="311.0" y="188.76"/><use href="#nz3" x="311.8" y="191.6"/><use href="#nz2" x="318.1" y="194.44"/><use href="#nz1" x="317.4" y="197.28"/><use href="#nz3" x="312.8" y="200.12"/><use href="#nz0" x="311.2" y="202.96"/><use href="#nz1" x="316.0" y="205.8"/><use href="#nz0" x="305.7" y="208.64"/><use href="#nz2" x="292.4" y="211.48"/><use href="#nz2" x="308.8" y="214.32"/><use href="#nz1" x="291.3" y="217.16"/><use href="#nz1" x="299.1" y="220"/><use href="#nz1" x="294.2" y="222.84"/><use href="#nz0" x="317.7" y="225.68"/><use href="#nz0" x="306.2" y="228.52"/><use href="#nz1" x="300.2" y="231.36"/><use href="#nz1" x="318.3" y="234.2"/><use href="#nz1" x="316.3" y="237.04"/><use href="#nz2" x="291.0" y="239.88"/><use href="#nz3" x="309.1" y="242.72"/><use href="#nz0" x="312.1" y="245.56"/><use href="#nz0" x="318.4" y="248.4"/></g>
<path stroke="#4242c6" stroke-width="1.35" d="M469 49.6l1.4 .08l1.4 -.43l1.4 .79l1.4 -.79l1.4 .67l1.4 -.36l1.4 .04M469 52.44l1.4 -.08l1.4 .43l1.4 -.73l1.4 .79l1.4 -.73l1.4 .36l1.4 -.04M387.8 55.28l1.4 .13l1.4 -.47l1.4 .71l1.4 -.72l1.4 .55l1.4 -.21l1.4 .01M469 55.28l1.4 .07l1.4 -.45l1.4 .86l1.4 -.89l1.4 .73l1.4 -.37l1.4 .04M387.8 58.12l1.4 -.1l1.4 .45l1.4 -.74l1.4 .72l1.4 -.56l1.4 .24l1.4 -.01M469 58.12l1.4 -.06l1.4 .49l1.4 -.88l1.4 .9l1.4 -.88l1.4 .46l1.4 -.04M387.8 60.96l1.4 .1l1.4 -.47l1.4 .84l1.4 -.87l1.4 .69l1.4 -.31l1.4 .01M469 60.96l1.4 .05l1.4 -.43M476 61.4l1.4 -.49l1.4 .05M387.8 63.8l1.4 -.12l1.4 .49l1.4 -.79l1.4 .85l1.4 -.75l1.4 .33l1.4 -.01M469 63.8l1.4 -.05l1.4 .5M476 63.35l1.4 .5l1.4 -.05M387.8 66.64l1.4 .1l1.4 -.52M394.8 66.93l1.4 -.3l1.4 .02M469 66.64l1.4 .04l1.4 -.43M476 67.16l1.4 -.58l1.4 .06M387.8 69.48l1.4 -.08l1.4 .48M394.8 69.08l1.4 .42l1.4 -.02M469 69.48l1.4 -.03l1.4 .46M477.4 69.54l1.4 -.06M387.8 72.32l1.4 .09M394.8 72.7l1.4 -.4l1.4 .02M469 72.32l1.4 .03l1.4 -.47M477.4 72.25l1.4 .07M387.8 75.16l1.4 -.09M394.8 74.78l1.4 .39l1.4 -.02M469 75.16l1.4 -.03l1.4 .45M477.4 75.24l1.4 -.08M387.8 78l1.4 .11M394.8 78.38l1.4 -.4l1.4 .02M469 78l1.4 .03M477.4 77.9l1.4 .1M387.8 80.84l1.4 -.09M394.8 80.41l1.4 .45l1.4 -.02M469 80.84l1.4 -.03M477.4 80.94l1.4 -.1M387.8 83.68l1.4 .1M394.8 84.11l1.4 -.45l1.4 .02M469 83.68l1.4 .04M477.4 83.58l1.4 .1M387.8 86.52l1.4 -.1M396.2 86.54l1.4 -.02M469 86.52l1.4 -.04M477.4 86.66l1.4 -.14M387.8 89.36l1.4 .06M396.2 89.33l1.4 .03M469 89.36l1.4 .04M477.4 89.2l1.4 .16M387.8 92.2l1.4 -.03M396.2 92.23l1.4 -.03M469 92.2l1.4 -.04M477.4 92.37l1.4 -.17M387.8 95.04l1.4 .01M396.2 95.01l1.4 .03M469 95.04l1.4 .05M477.4 94.86l1.4 .18M388.8 97.88l.8 .11M396 98.04l.8 -.16M469 97.88l1.4 -.04M477.4 98.09l1.4 -.21M388.8 100.72l.8 -.11M396 100.5l.8 .22l.8 0M469 100.72l1.4 .04M477.4 100.51l1.4 .21M390.4 103.56l.8 .45M395.2 103.44l.8 .12M469 103.56l1.4 -.06M477.4 103.81l1.4 -.25M389.6 106.4l.8 .03M395.2 106.89l.8 -.49M469.6 106.4l.8 .06l.8 -.5M477.6 106.22l.8 .18M389.6 109.24l.8 -.21M396 109.31l.8 -.07M469.6 109.24l.8 -.08l.8 .55M477.6 109.41l.8 -.17M389.6 112.08l.8 .44M396 111.83l.8 .25M469.6 112.08l.8 .08l.8 -.57M477.6 111.9l.8 .18l.8 0M388.8 114.92l.8 .02M396 115.34l.8 -.42M469.6 114.92l.8 -.09l.8 .5M477.6 115.11l.8 -.19l.8 0M388.8 117.76l.8 -.11M396.8 117.79l.8 -.03M469.6 117.76l.8 .09M477.6 117.56l.8 .2l.8 0M388.8 120.6l.8 .22M396.8 120.48l.8 .12M469.6 120.6l.8 -.11M477.6 120.81l.8 -.22l.8 0M388 123.44l.8 0l.8 -.45M396.8 123.65l.8 -.21M468.8 123.44l.8 -.1M477.6 123.38l.8 .06M388 126.28l.8 -.03M396.8 125.97l.8 .31M468.8 126.28l.8 .07M477.6 126.32l.8 -.04M388 129.12l.8 .12M396.8 129.47l.8 -.35l.8 0M468.8 129.12l.8 -.03M477.6 129.1l.8 .02M388 131.96l.8 -.18M397.6 131.99l.8 -.03M468.8 131.96l.8 .01M477.6 131.96l.8 0M388 134.8l.8 .26M397.6 134.69l.8 .11M468.8 134.8l.8 0l.8 .41M476.8 135.24l.8 -.44l.8 0M387.2 137.64l.8 .01l.8 -.39M397.6 137.82l.8 -.18M469.6 137.64l.8 -.06M476.8 137.49l.8 .15M388 140.48l.8 .26M397.6 140.33l.8 .15M470.4 140.48l.8 -.32M388 143.32l.8 -.09M397.6 143.39l.8 -.07M476 143.33l.8 -.01M388 146.16l.8 0l.8 -.46M397.6 146.13l.8 .03M471.2 146.16l.8 .03M388.8 149l.8 .15M396.8 148.49l.8 .51l.8 0M470.4 149l1.4 .4M476 148.51l1.4 .49M388.8 151.84l.8 -.04M396.8 152.08l.8 -.24M470.4 151.84l1.4 -.37M476 152.29l1.4 -.45M389.6 154.68l.8 -.4M396.8 154.58l.8 .1M470.4 154.68l1.4 .34M476 154.23l1.4 .45M389.6 157.52l.8 .18M396.8 157.52l.8 0M470.4 157.52l.8 -.14M477.6 157.25l.8 .27M389.6 160.36l.8 -.03M396 160.64l.8 -.28M470.4 160.36l.8 .42M478.4 160.35l.8 .01M389.6 163.2l.8 0M396 163.03l.8 .17M470.4 163.2l.8 -.14M477.6 162.95l.8 .25M389.2 166.04l1.4 0M396.2 166.36l1.4 -.32M470.4 166.04l.8 0M477.6 166.09l.8 -.05M389.2 168.88l1.4 0M396.2 168.53l1.4 .35M471.2 168.88l.8 .22M476.8 169.27l.8 -.39M389.2 171.72l1.4 0M396.2 172.08l1.4 -.36M471.2 171.72l.8 0M476.8 171.63l.8 .09M389.2 174.56l1.4 0M396.2 174.06l1.4 .5M390.4 177.4l.8 .19M397.6 177.85l.8 -.45M390.4 180.24l.8 -.1M398.4 180.48l.8 -.24M390.4 183.08l.8 .15M398.4 182.72l.8 .36M390.4 185.92l.8 -.18M398.4 186.34l.8 -.42l.8 0M390.4 188.76l.8 .09M399.2 188.79l.8 -.03M390.4 191.6l.8 -.02M399.2 191.5l.8 .1M390.4 194.44l.8 0l.8 -.37M399.2 194.65l.8 -.21M391.2 197.28l.8 .25M399.2 196.91l.8 .37M391.2 200.12l.8 -.16M400 200.1l.8 .02M391.2 202.96l.8 .05M400 203.05l.8 -.09M391.2 205.8l.8 -.01l.8 .47M400 205.63l.8 .17M392 208.64l.8 -.27M400 208.88l.8 -.24M392 211.48l.8 .17M400 211.09l.8 .39M392 214.32l.8 -.06M400 214.78l.8 -.46l.8 .01M392 217.16l.8 .01l.8 -.42M400.8 217.19l.8 -.03M392.8 220l.8 .27M400.8 219.92l.8 .08M392.8 222.84l.8 -.16M400.8 222.97l.8 -.13M392.8 225.68l.8 .05M400.8 225.48l.8 .2M392.8 228.52l.8 0l.8 .47M400.8 228.89l.8 -.37M393.6 231.36l.8 -.27M401.6 231.37l.8 -.01M393.6 234.2l.8 .11M401.6 234.16l.8 .04M393.6 237.04l.8 -.01M401.6 237.17l.8 -.13M394.4 239.88l.8 -.31M401.6 239.67l.8 .21M394.4 242.72l.8 .16M401.6 243.02l.8 -.3M394.4 245.56l.8 -.04M401.6 245.17l.8 .39l.8 0M394.4 248.4l.8 0l.8 -.44M402.4 248.38l.8 .02"/>
<path stroke="#2e2ee2" stroke-width="1.35" d="M471.8 60.58l1.4 .85l1.4 -1.02l1.4 .99M471.8 64.24l1.4 -.94l1.4 1.05l1.4 -1.01M390.6 66.21l1.4 .91l1.4 -.94l1.4 .74M471.8 66.25l1.4 .94l1.4 -1.05l1.4 1.03M390.6 69.88l1.4 -.96l1.4 1.04l1.4 -.88M471.8 69.9l1.4 -1.08l1.4 1.23l1.4 -1.08l1.4 .57M389.2 72.41l1.4 -.55l1.4 1.1l1.4 -1.18l1.4 .92M471.8 71.87l1.4 1.14l1.4 -1.34l1.4 1.16l1.4 -.58M389.2 75.07l1.4 .6l1.4 -1.05l1.4 1.22l1.4 -1.06M471.8 75.58l1.4 -1.09l1.4 1.31l1.4 -1.12l1.4 .56M389.2 78.11l1.4 -.69l1.4 1.19l1.4 -1.3l1.4 1.07M470.4 78.03l1.4 -.45l1.4 1.12l1.4 -1.47l1.4 1.35l1.4 -.68M389.2 80.75l1.4 .68l1.4 -1.33l1.4 1.45l1.4 -1.14M470.4 80.81l1.4 .54l1.4 -1.23l1.4 1.55l1.4 -1.41l1.4 .68M389.2 83.78l1.4 -.71l1.4 1.44l1.4 -1.48l1.4 1.09M470.4 83.72l1.4 -.62l1.4 1.32l1.4 -1.6l1.4 1.56l1.4 -.8M389.2 86.42l1.4 .77l1.4 -1.58l1.4 1.7l1.4 -1.35l1.4 .59M470.4 86.48l1.4 .59l1.4 -1.34l1.4 1.75l1.4 -1.62l1.4 .8M389.2 89.42l1.4 -.67l1.4 1.59l1.4 -1.82l1.4 1.39l1.4 -.57M470.4 89.4l1.4 -.66l1.4 1.53l1.4 -1.68l1.4 1.47l1.4 -.86M389.2 92.17l1.4 .6l1.4 -1.57l1.4 2.05l1.4 -1.63l1.4 .61M470.4 92.16l1.4 .7l1.4 -1.48l1.4 1.8l1.4 -1.85l1.4 1.03M389.2 95.05l1.4 -.69l1.4 1.74l1.4 -2.1l1.4 1.76l1.4 -.75M470.4 95.09l1.4 -.65l1.4 1.44l1.4 -1.81l1.4 1.74l1.4 -.95M389.6 97.99l.8 -.67l.8 1.55M394.4 99l.8 -1.72l.8 .76M470.4 97.84l1.4 .64l1.4 -1.55l1.4 1.91l1.4 -1.79l1.4 1.04M389.6 100.61l.8 .72l.8 -1.75M395.2 101.36l.8 -.86M470.4 100.76l1.4 -.72l1.4 1.71l1.4 -2.13l1.4 1.99l1.4 -1.1M470.4 103.5l1.4 .69l1.4 -1.63l1.4 1.97l1.4 -1.98l1.4 1.26M390.4 106.43l.8 -.89M471.2 105.97l.8 1.27M476 105.27l.8 1.7l.8 -.75M395.2 108.34l.8 .97M471.2 109.72l.8 -1.29M476 110.26l.8 -1.57l.8 .73M471.2 111.58l.8 1.4M476.8 112.72l.8 -.82M389.6 114.94l.8 -.68M471.2 115.33l.8 -1.51M476.8 114.2l.8 .91M389.6 117.65l.8 1.05M396 117.14l.8 .65M470.4 117.85l.8 -.58l.8 1.5M476.8 118.4l.8 -.83M396 121.65l.8 -1.18M470.4 120.49l.8 .65M476.8 119.77l.8 1.05M469.6 123.34l.8 .94M476.8 124.11l.8 -.73M388.8 126.25l.8 .66M469.6 126.35l.8 -.77M476.8 125.56l.8 .75M388.8 129.24l.8 -.83M469.6 129.09l.8 .71M476.8 129.69l.8 -.59M388.8 131.78l.8 1.17M396.8 131.48l.8 .51M469.6 131.97l.8 -.53M476.8 131.38l.8 .59M396.8 135.46l.8 -.77M396.8 136.66l.8 1.17M470.4 137.58l.8 1.08M388.8 140.74l.8 -1.23M396.8 141.25l.8 -.93M476 139.81l.8 .67M388.8 143.23l.8 .79M396.8 142.52l.8 .87M471.2 143.32l.8 -.76M396.8 146.69l.8 -.56M471.8 149.4l1.4 -1.17l1.4 1.47l1.4 -1.19M389.6 151.8l.8 .77M471.8 151.47l1.4 1.26l1.4 -1.63l1.4 1.19M396 155.65l.8 -1.07M471.8 155.02l1.4 -1.01l1.4 1.53l1.4 -1.31M396 156.99l.8 .53M471.2 157.38l.8 1.11M390.4 160.33l.8 .79M477.6 160.95l.8 -.6M390.4 163.2l.8 -.51M390.6 166.04l1.4 -.6l1.4 1.76l1.4 -2.27l1.4 1.43M471.2 166.04l.8 -.55M476.8 164.93l.8 1.17M390.6 168.88l1.4 .63l1.4 -1.81l1.4 2.15l1.4 -1.31M390.6 171.72l1.4 -.7l1.4 1.74l1.4 -2.14l1.4 1.46M472 171.72l.8 .97M390.6 174.56l1.4 .63l1.4 -1.76l1.4 2.15l1.4 -1.52M391.2 177.59l.8 -.8M391.2 180.14l.8 .88M391.2 183.23l.8 -1.06M391.2 185.74l.8 1.09M391.2 188.85l.8 -.87M398.4 188.21l.8 .58M391.2 191.58l.8 .51M398.4 192.37l.8 -.87M392 199.96l.8 .97M399.2 200.6l.8 -.5M392 203.01l.8 -.66M399.2 202.16l.8 .89M399.2 206.86l.8 -1.23M392.8 211.65l.8 -1.26M392.8 214.26l.8 .73M400 216.64l.8 .56M400 220.77l.8 -.85M393.6 222.68l.8 1.09M400 221.73l.8 1.24M393.6 225.73l.8 -.76M400.8 230.91l.8 .45M394.4 234.31l.8 -.99M400.8 234.81l.8 -.66M394.4 237.03l.8 .5M400.8 236.23l.8 .94M395.2 242.88l.8 -1.21M395.2 245.52l.8 .63M401.6 248.94l.8 -.56"/>
<path stroke="#2424dc" stroke-width="1.35" d="M391.2 98.87l.8 -1.99l.8 2.16l.8 -2.22l.8 2.18M391.2 99.59l.8 2.56l.8 -3.15l.8 3.16l.8 -2.65l.8 1.84M391.2 104.01l.8 -2.44l.8 3.74l.8 -3.57l.8 3.11l.8 -1.42M391.2 105.54l.8 2.95M394.4 104.58l.8 2.31M472 107.24l.8 -2.07l.8 2.27l.8 -2.12l.8 2.29l.8 -2.34M390.4 109.03l.8 1.48M472 108.43l.8 2.19l.8 -2.57l.8 2.5l.8 -2.76l.8 2.47M390.4 112.52l.8 -2.29M395.2 113.65l.8 -1.82M472 112.98l.8 -2.16l.8 2.66l.8 -2.69l.8 2.6l.8 -2.52l.8 1.85M390.4 114.26l.8 2.84M395.2 112.88l.8 2.47M472 113.83l.8 2.61l.8 -2.95l.8 2.95l.8 -3.03l.8 2.61l.8 -1.8M395.2 119.99l.8 -2.85M472 118.76l.8 -2.41l.8 2.77l.8 -3l.8 3.13l.8 -2.8l.8 1.96M389.6 120.82l.8 -1.57M471.2 121.15l.8 -1.88l.8 3.1l.8 -3.24l.8 2.83l.8 -2.94l.8 3.13l.8 -2.38M389.6 122.99l.8 2.36M396 122.12l.8 1.53M389.6 126.91l.8 -2.83M396 127.83l.8 -1.86M396 127.55l.8 1.93M396 134.01l.8 -2.53M470.4 131.44l.8 3.03M476 134.13l.8 -2.75M388.8 135.06l.8 -1.38M396 132.42l.8 3.04M470.4 135.21l.8 -2.63M476 132.58l.8 2.66M388.8 137.27l.8 1.85M476 138.78l.8 -1.3M471.2 140.16l.8 2.14M389.6 144.03l.8 -2.7M396 145.87l.8 -3.35M475.2 142.13l.8 1.2M389.6 145.7l.8 2.26M396 144.24l.8 2.45M472 146.19l.8 -1.78l.8 3.69l.8 -3.53l.8 1.59M389.6 149.15l.8 -1.19M396 150.78l.8 -2.29M396 150.37l.8 1.71M390.4 154.28l.8 2.21M390.4 157.7l.8 -1.34M476.8 159.02l.8 -1.76M395.2 158.48l.8 2.16M471.2 160.78l.8 -2.06M476.8 157.98l.8 2.97M391.2 162.69l.8 2.17l.8 -4.21l.8 5.09l.8 -4.64l.8 3.34l.8 -1.41M471.2 163.06l.8 1.31M476.8 164.83l.8 -1.88M472 169.1l.8 -2.13M476 166.41l.8 2.85M476 173.24l.8 -1.6M392 176.79l.8 2.04M396.8 175.59l.8 2.26M397.6 179.16l.8 1.32M397.6 184.42l.8 -1.7M397.6 184.02l.8 2.32M397.6 191.05l.8 -2.83M392 192.09l.8 -2.39M392 194.07l.8 2.19M398.4 193.26l.8 1.39M392 197.53l.8 -1.45M398.4 198.64l.8 -1.73M398.4 198.44l.8 2.17M392.8 202.35l.8 2.91M392.8 206.26l.8 -2.46M392.8 208.37l.8 1.7M399.2 207.31l.8 1.57M399.2 213.23l.8 -2.14M393.6 214.99l.8 -2.85M399.2 212.37l.8 2.41M393.6 216.74l.8 2.4M399.2 219.53l.8 -2.89M393.6 220.27l.8 -1.52M400 226.94l.8 -1.46M394.4 228.99l.8 -2.07M400 226.72l.8 2.16M394.4 231.09l.8 1.58M400 233.51l.8 -2.6M400 231.85l.8 2.96M395.2 237.53l.8 -2.68M395.2 239.57l.8 1.77M400.8 240.98l.8 -1.31M400.8 241.2l.8 1.82M396 246.15l.8 -2.38M400.8 247l.8 -1.83M396 247.96l.8 1.67M400.8 246.64l.8 2.3"/>
<path stroke="#1010ec" stroke-width="1.1" d="M392 108.5l.8 -4.08l.8 4.23l.8 -4.06M391.2 110.51l.8 -3.8l.8 5.35l.8 -5.69l.8 5.59l.8 -3.62M391.2 110.23l.8 4.57l.8 -5.51l.8 5.5l.8 -5.27l.8 4.13M391.2 117.1l.8 -4.78l.8 5.71l.8 -5.8l.8 5.37l.8 -4.73M390.4 118.7l.8 -3.71l.8 5.65l.8 -5.74l.8 6.12l.8 -6.32l.8 5.29M390.4 119.25l.8 4.17l.8 -5.82l.8 6.13l.8 -5.88l.8 6.19l.8 -5.99l.8 3.59M390.4 125.35l.8 -4.71l.8 6.2l.8 -6.8l.8 6.35l.8 -5.94l.8 5.48l.8 -3.81M470.4 124.28l.8 -3.25l.8 5.8l.8 -6.7l.8 6.32l.8 -6.45l.8 6.77l.8 -5.72l.8 3.06M390.4 124.08l.8 5.2l.8 -6.82l.8 6.73l.8 -6.33l.8 6.52l.8 -5.93l.8 4.39M470.4 125.58l.8 2.93l.8 -5.49l.8 6.42l.8 -6.58l.8 7.16l.8 -6.65l.8 5.08l.8 -2.9M389.6 128.41l.8 3.12l.8 -5.76l.8 7.28l.8 -7.07l.8 7.03l.8 -7.24l.8 6.21l.8 -4.43M470.4 129.8l.8 -3.25l.8 5.53l.8 -6.44l.8 7.12l.8 -7.11l.8 7.02l.8 -6.08l.8 3.11M389.6 132.95l.8 -3.69l.8 6.13l.8 -6.5l.8 6.75l.8 -7.35l.8 7.18l.8 -6.87l.8 5.4M471.2 134.46l.8 -5.98l.8 7.42l.8 -6.95l.8 6.65l.8 -6.92l.8 5.44M389.6 133.68l.8 4.13l.8 -6.73l.8 7.3l.8 -7l.8 7.33l.8 -7.11l.8 6.14l.8 -5.31M471.2 132.57l.8 5.69l.8 -6.61l.8 6.9l.8 -6.88l.8 6.25l.8 -5.35M389.6 139.11l.8 -3.96l.8 5.63l.8 -6.15l.8 6.85l.8 -7.64l.8 6.91l.8 -6.23l.8 5.59l.8 -3.45M471.2 138.66l.8 -4.16l.8 6.23l.8 -6.63l.8 6.77l.8 -6.1l.8 4.01M389.6 139.51l.8 3.48l.8 -6.08l.8 7.22l.8 -7.18l.8 6.56l.8 -6.34l.8 6.38l.8 -5.14l.8 2.84M472 142.3l.8 -4.87l.8 5.91l.8 -5.84l.8 5.73l.8 -3.42M390.4 141.33l.8 5.45l.8 -6.96l.8 7.4l.8 -7.66l.8 7.7l.8 -7.55l.8 6.16M472 142.56l.8 3.28l.8 -5.64l.8 6.06l.8 -4.12M390.4 147.96l.8 -4.54l.8 6.72l.8 -7.49l.8 6.9l.8 -6.59l.8 6.75l.8 -5.47M390.4 147.96l.8 4.22l.8 -6.86l.8 7.02l.8 -7.03l.8 7.27l.8 -6.62l.8 4.81M390.4 152.58l.8 -3.04l.8 5.29l.8 -6.69l.8 6.61l.8 -6.21l.8 6.54l.8 -4.71M391.2 156.5l.8 -4.85l.8 6.33l.8 -6.44l.8 6.52l.8 -6.24l.8 3.83M391.2 156.36l.8 3.62l.8 -5.33l.8 6.16l.8 -6.23l.8 5.42l.8 -3.01M472 158.49l.8 -3.18l.8 4.71l.8 -5.03l.8 5.1l.8 -5.23l.8 4.14M391.2 161.12l.8 -3.43l.8 5.09l.8 -4.84l.8 5.24l.8 -4.7M472 158.72l.8 5.1l.8 -6.43l.8 5.86l.8 -5.98l.8 6.42l.8 -5.7M472 164.38l.8 -4.11l.8 5.74l.8 -5.94l.8 5.85l.8 -5.43l.8 4.35M472 165.49l.8 3.11l.8 -5.72l.8 6.05l.8 -5.51l.8 5.51l.8 -4.02M472.8 166.98l.8 4.37l.8 -5.14l.8 5.25l.8 -5.04M472.8 172.68l.8 -3.63l.8 5.2l.8 -5.05l.8 4.03M392.8 178.83l.8 -3.75l.8 4.64l.8 -5.13l.8 5l.8 -4.01M392 181.02l.8 -3.17l.8 5.82l.8 -6.68l.8 6.23l.8 -5.87l.8 5.51l.8 -3.69M392 182.17l.8 3.75l.8 -5.52l.8 5.46l.8 -5.46l.8 6.01l.8 -6.44l.8 4.45M392 186.83l.8 -3.68l.8 6.32l.8 -6.44l.8 5.63l.8 -6.1l.8 6.4l.8 -4.94M392 187.97l.8 2.77l.8 -4.87l.8 6.24l.8 -6.58l.8 6.33l.8 -6.25l.8 5.42M392.8 189.69l.8 5.13l.8 -6.38l.8 5.86l.8 -5.69l.8 5.89l.8 -4.96l.8 2.82M392.8 196.26l.8 -4.5l.8 5.92l.8 -6.33l.8 6.08l.8 -6.19l.8 5.7l.8 -3.67M392.8 196.08l.8 3.9l.8 -5.99l.8 6.4l.8 -6.37l.8 6.12l.8 -5.45l.8 3.95M392.8 200.93l.8 -3.43l.8 5.61l.8 -5.85l.8 6.39l.8 -6.42l.8 5.72l.8 -4.52M393.6 205.27l.8 -5.29l.8 6.07l.8 -5.79l.8 6.24l.8 -6.4l.8 5.22l.8 -3.17M393.6 203.8l.8 4.81l.8 -6.25l.8 6.18l.8 -5.57l.8 5.83l.8 -5.22l.8 3.28M393.6 210.07l.8 -4.26l.8 5.79l.8 -6.2l.8 6.51l.8 -6.25l.8 5.65l.8 -3.99M393.6 210.39l.8 3.66l.8 -6.04l.8 6.47l.8 -5.92l.8 6.34l.8 -6.23l.8 4.56M394.4 212.14l.8 5.23l.8 -5.89l.8 6.18l.8 -6.4l.8 6.43l.8 -5.32M394.4 219.14l.8 -5.13l.8 6.31l.8 -6.24l.8 6.19l.8 -6.5l.8 5.75M394.4 218.75l.8 3.86l.8 -5.81l.8 6.7l.8 -6.37l.8 5.53l.8 -5.07l.8 3.18M394.4 223.77l.8 -3.75l.8 5.81l.8 -5.64l.8 5.43l.8 -5.78l.8 5.88l.8 -3.97M394.4 224.97l.8 3.06l.8 -5.48l.8 5.81l.8 -5.63l.8 5.76l.8 -5.83l.8 4.28M395.2 226.92l.8 4.81l.8 -6.64l.8 6.57l.8 -6.51l.8 6.01l.8 -4.44M395.2 232.67l.8 -3.69l.8 5.54l.8 -6.3l.8 6.22l.8 -6.04l.8 5.11M395.2 233.32l.8 3.04l.8 -5.33l.8 6.13l.8 -5.62l.8 5.83l.8 -5.52M396 234.85l.8 5.1l.8 -6.14l.8 5.99l.8 -5.77l.8 5.66l.8 -3.46M396 241.34l.8 -4.43l.8 5.87l.8 -5.57l.8 5.64l.8 -5.61l.8 3.74M396 241.66l.8 3.49l.8 -5.12l.8 5.3l.8 -5.4l.8 5.59l.8 -4.32M396.8 243.76l.8 4.52l.8 -4.9l.8 4.76l.8 -5.06l.8 3.92M396.8 249.64l.8 -3.32l.8 4.7l.8 -5.11l.8 4.84l.8 -4.11"/>
</g>
<rect x="169.8" y="119.2" width="37.9" height="31.1" fill="none" stroke="#f2080c" stroke-width="1.9"/>
<rect x="455.7" y="122.0" width="36.3" height="31.0" fill="none" stroke="#f2080c" stroke-width="1.9"/>
<rect x="182.9" y="172.4" width="73.2" height="75.7" fill="#fff"/>
<clipPath id="ca"><rect x="186.5" y="175.3" width="67.2" height="69.7"/></clipPath>
<path clip-path="url(#ca)" d="M186.5 175.3H253.7M215.2 175.3l.8 .3l.8 -.96l.8 1.78l.8 -2.73l.8 3.65l.8 -4.4l.8 4.38l.8 -3.41l.8 2.2l.8 -1.28l.8 .48M186.5 182.27H253.7M214.4 182.27l.8 .23l.8 -.71l.8 1.3l.8 -2.22l.8 3.1l.8 -3.82l.8 4.05l.8 -3.9l.8 3.21l.8 -2.14l.8 1.38l.8 -.75l.8 .25M186.5 189.24H253.7M214.4 189.24l.8 -.18l.8 .55l.8 -1.08l.8 1.95l.8 -2.91l.8 3.68l.8 -4.01l.8 3.69l.8 -2.91l.8 1.88l.8 -1.03l.8 .35M186.5 196.21H253.7M215.2 196.21l.8 -.28l.8 .85l.8 -1.53l.8 2.27l.8 -2.88l.8 3.25l.8 -3.19l.8 2.75l.8 -1.97l.8 1.13l.8 -.58l.8 .18M186.5 203.18H253.7M216 203.18l.8 -.32l.8 .88l.8 -1.53l.8 2.33l.8 -2.72l.8 2.73l.8 -2.45l.8 1.89l.8 -1.2l.8 .59l.8 -.19M186.5 210.15H253.7M216.8 210.15l.8 -.05l.8 .19l.8 -.37l.8 .57l.8 -.69l.8 .64l.8 -.44l.8 .23l.8 -.07M186.5 217.12H253.7M216.8 217.12l.8 .04l.8 -.15l.8 .28l.8 -.44l.8 .51l.8 -.48l.8 .34l.8 -.17l.8 .05M186.5 224.09H253.7M216 224.09l.8 .14l.8 -.44l.8 .9l.8 -1.5l.8 1.92l.8 -2.01l.8 1.72l.8 -1.14l.8 .62l.8 -.21M186.5 231.06H253.7M215.2 231.06l.8 .19l.8 -.61l.8 1.14l.8 -1.84l.8 2.62l.8 -3.13l.8 3.21l.8 -2.99l.8 2.42l.8 -1.58l.8 .83l.8 -.27M186.5 238.03H253.7M215.2 238.03l.8 -.27l.8 .79l.8 -1.37l.8 2.13l.8 -3.16l.8 3.81l.8 -3.95l.8 3.66l.8 -2.72l.8 1.77l.8 -1.08l.8 .55l.8 -.18M186.5 245H253.7M215.2 245l.8 .23l.8 -.73l.8 1.4l.8 -2.18l.8 3.04l.8 -3.85l.8 4.17l.8 -3.73l.8 2.73l.8 -1.74l.8 .99l.8 -.33" fill="none" stroke="#2a2a2a" stroke-width="1.25" stroke-linejoin="round"/>
<rect x="186.5" y="175.3" width="67.2" height="69.7" fill="none" stroke="#333" stroke-width="1"/>
<path d="M183.90 172.40V248.10M182.95 173.25H256.10M182.95 247.25H256.10" fill="none" stroke="#f05a5e" stroke-width="1.7"/>
<path d="M255.55 172.40V248.10" fill="none" stroke="#f05a5e" stroke-width="1.1"/>
<rect x="467.9" y="172.4" width="73.2" height="75.7" fill="#fff"/>
<clipPath id="cb"><rect x="471.5" y="175.3" width="67.2" height="69.7"/></clipPath>
<path clip-path="url(#cb)" d="M471.5 175.3H538.7M498 175.3l1 -.51l1 1.69l1 -3.06l1 4.85l1 -6.08l1 6.49l1 -6.09l1 4.34l1 -2.63l1 1.47l1 -.47M471.5 182.27H538.7M498 182.27l1 .42l1 -1.38l1 2.61l1 -4.3l1 5.88l1 -6.26l1 5.8l1 -4.54l1 2.95l1 -1.68l1 .51M471.5 189.24H538.7M498 189.24l1 -.4l1 1.24l1 -2.56l1 4.3l1 -5.49l1 6.25l1 -6.1l1 4.95l1 -3.49l1 1.96l1 -.67M471.5 196.21H538.7M498 196.21l1 .31l1 -1l1 2.11l1 -3.75l1 5.15l1 -5.94l1 6.07l1 -5.39l1 3.83l1 -2.13l1 1.03l1 -.29M471.5 203.18H538.7M499 203.18l1 .64l1 -1.87l1 3.29l1 -5.03l1 6.27l1 -6.35l1 5.33l1 -3.88l1 2.46l1 -1.22l1 .35M471.5 210.15H538.7M499 210.15l1 -.57l1 1.63l1 -2.93l1 4.62l1 -6.05l1 6.4l1 -5.54l1 4.14l1 -2.63l1 1.42l1 -.48M471.5 217.12H538.7M499 217.12l1 .49l1 -1.57l1 2.74l1 -4.11l1 5.8l1 -6.46l1 5.7l1 -4.51l1 2.96l1 -1.49l1 .46M471.5 224.09H538.7M499 224.09l1 -.35l1 1.2l1 -2.35l1 3.99l1 -5.5l1 6.14l1 -5.5l1 4.06l1 -2.6l1 1.32l1 -.41M471.5 231.06H538.7M500 231.06l1 -.64l1 1.84l1 -3.26l1 4.77l1 -5.75l1 5.61l1 -4.18l1 2.42l1 -1.16l1 .35M471.5 238.03H538.7M500 238.03l1 .41l1 -1.36l1 2.56l1 -3.68l1 4.61l1 -4.46l1 3.31l1 -2.07l1 .97l1 -.28M471.5 245H538.7M501 245l1 .27l1 -.92l1 1.63l1 -2.08l1 2.06l1 -1.44l1 .63l1 -.15" fill="none" stroke="#2a2a2a" stroke-width="1.25" stroke-linejoin="round"/>
<rect x="471.5" y="175.3" width="67.2" height="69.7" fill="none" stroke="#333" stroke-width="1"/>
<path d="M468.90 172.40V248.10M467.95 173.25H541.10M467.95 247.25H541.10" fill="none" stroke="#f05a5e" stroke-width="1.7"/>
<path d="M540.55 172.40V248.10" fill="none" stroke="#f05a5e" stroke-width="1.1"/>
<text x="29.3" y="25.7" class="tl" text-anchor="end">10</text>
<text x="29.3" y="54.1" class="tl" text-anchor="end">20</text>
<text x="29.3" y="82.5" class="tl" text-anchor="end">30</text>
<text x="29.3" y="110.9" class="tl" text-anchor="end">40</text>
<text x="29.3" y="139.3" class="tl" text-anchor="end">50</text>
<text x="29.3" y="167.7" class="tl" text-anchor="end">60</text>
<text x="29.3" y="196.1" class="tl" text-anchor="end">70</text>
<text x="29.3" y="224.5" class="tl" text-anchor="end">80</text>
<text x="29.3" y="252.9" class="tl" text-anchor="end">90</text>
<text x="35.9" y="266.6" class="tl" text-anchor="middle">0.02</text>
<text x="109.4" y="266.6" class="tl" text-anchor="middle">0.08</text>
<text x="182.9" y="266.6" class="tl" text-anchor="middle">0.14</text>
<text x="256.4" y="266.6" class="tl" text-anchor="middle">0.2</text>
<text x="147.1" y="282.3" class="al" text-anchor="middle">Time (s)</text>
<text transform="translate(10.6 133.4) rotate(-90)" class="al" text-anchor="middle">Depth (m)</text>
<text x="146.3" y="13.0" class="ttl" text-anchor="middle">(a)</text>
<rect x="214.4" y="21.5" width="42.0" height="20.8" fill="#fff" stroke="#222" stroke-width="1"/>
<text x="234.9" y="36.3" class="ssp" text-anchor="middle">SSP 1</text>
<text x="314.3" y="25.7" class="tl" text-anchor="end">10</text>
<text x="314.3" y="54.1" class="tl" text-anchor="end">20</text>
<text x="314.3" y="82.5" class="tl" text-anchor="end">30</text>
<text x="314.3" y="110.9" class="tl" text-anchor="end">40</text>
<text x="314.3" y="139.3" class="tl" text-anchor="end">50</text>
<text x="314.3" y="167.7" class="tl" text-anchor="end">60</text>
<text x="314.3" y="196.1" class="tl" text-anchor="end">70</text>
<text x="314.3" y="224.5" class="tl" text-anchor="end">80</text>
<text x="314.3" y="252.9" class="tl" text-anchor="end">90</text>
<text x="320.9" y="266.6" class="tl" text-anchor="middle">0.02</text>
<text x="394.4" y="266.6" class="tl" text-anchor="middle">0.08</text>
<text x="467.9" y="266.6" class="tl" text-anchor="middle">0.14</text>
<text x="541.4" y="266.6" class="tl" text-anchor="middle">0.2</text>
<text x="432.1" y="282.3" class="al" text-anchor="middle">Time (s)</text>
<text transform="translate(295.6 133.4) rotate(-90)" class="al" text-anchor="middle">Depth (m)</text>
<text x="434.8" y="13.0" class="ttl" text-anchor="middle">(b)</text>
<rect x="499.4" y="21.5" width="42.0" height="20.8" fill="#fff" stroke="#222" stroke-width="1"/>
<text x="519.9" y="36.3" class="ssp" text-anchor="middle">SSP 2</text>
</svg>
</body></html>
